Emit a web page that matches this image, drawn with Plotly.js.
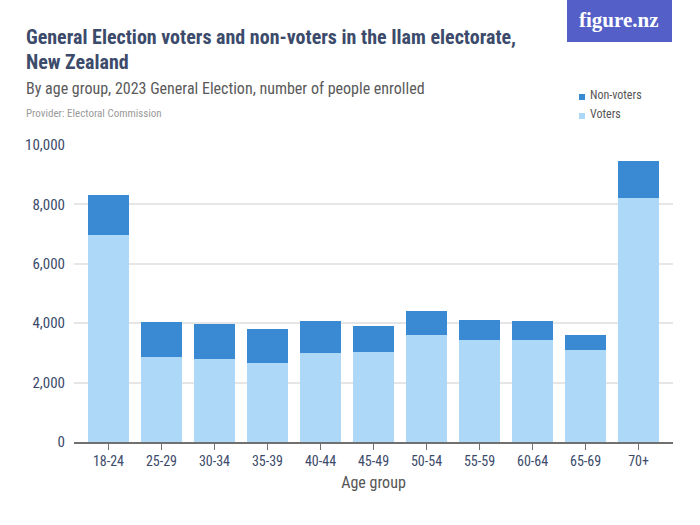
<!DOCTYPE html>
<html>
<head>
<meta charset="utf-8">
<script src="https://cdn.plot.ly/plotly-3.0.1.min.js"></script>
<style>html,body{margin:0;padding:0;background:#fff}#chart{width:700px;height:525px}</style>
</head>
<body>
<div id="chart"></div>
<script>
const categories = ["18-24","25-29","30-34","35-39","40-44","45-49","50-54","55-59","60-64","65-69","70+"];
const voters     = [6970, 2860, 2800, 2670, 3000, 3030, 3590, 3430, 3440, 3100, 8210];
const nonVoters  = [1360, 1180, 1160, 1130, 1080,  860,  820,  680,  650,  500, 1250];
const yTicks = [0, 2000, 4000, 6000, 8000, 10000];

const W = 700, H = 525;
const M = {l: 74, r: 27, t: 145, b: 83};
const PW = W - M.l - M.r, PH = H - M.t - M.b;
const px = x => (x - M.l) / PW;
const py = y => (H - M.b - y) / PH;

const FONT = '"Roboto Condensed", Roboto, sans-serif';
const NAVY = '#3c4b6b';
const C_VOT = '#add8f8';
const C_NON = '#3a8ad3';

const traces = [
  {type: 'bar', name: 'Voters', x: categories, y: voters, marker: {color: C_VOT}, hoverinfo: 'x+y+name'},
  {type: 'bar', name: 'Non-voters', x: categories, y: nonVoters, marker: {color: C_NON}, hoverinfo: 'x+y+name'}
];

const ann = (x, y, text, size, color, opts) => Object.assign({
  xref: 'paper', yref: 'paper', x: px(x), y: py(y), text: text, showarrow: false,
  xanchor: 'left', yanchor: 'middle', font: {family: FONT, size: size, color: color}
}, opts || {});

const layout = {
  width: W, height: H,
  margin: M,
  paper_bgcolor: '#fff', plot_bgcolor: '#fff',
  barmode: 'stack', bargap: 0.21,
  showlegend: false,
  font: {family: FONT, color: NAVY},
  xaxis: {
    type: 'category', range: [-0.65, 10.65],
    showline: true, linecolor: '#707070', linewidth: 1.5,
    ticks: 'outside', ticklen: 6, tickcolor: '#707070', tickwidth: 1,
    tickfont: {family: FONT, size: 14, color: NAVY},
    showgrid: false, fixedrange: true,
    title: {text: 'Age group', font: {family: FONT, size: 16, color: '#555'}, standoff: 8}
  },
  yaxis: {
    range: [0, 10000], tickvals: yTicks, tickformat: ',d',
    showgrid: true, gridcolor: '#e6e6e6', gridwidth: 2,
    zeroline: false, showline: false, ticks: '',
    tickfont: {family: FONT, size: 15, color: NAVY},
    ticklabelstandoff: 8, fixedrange: true
  },
  shapes: [
    {type: 'rect', xref: 'paper', yref: 'paper', x0: px(567), x1: px(672), y0: py(42), y1: py(0), fillcolor: '#545fc8', line: {width: 0}},
    {type: 'rect', xref: 'paper', yref: 'paper', x0: px(579), x1: px(585), y0: py(100), y1: py(94), fillcolor: C_NON, line: {width: 0}},
    {type: 'rect', xref: 'paper', yref: 'paper', x0: px(579), x1: px(585), y0: py(119), y1: py(113), fillcolor: C_VOT, line: {width: 0}}
  ],
  annotations: [
    ann(24, 37, '<b>General Election voters and non-voters in the Ilam electorate,</b>', 20, NAVY),
    ann(24, 62, '<b>New Zealand</b>', 20, NAVY),
    ann(24, 88, 'By age group, 2023 General Election, number of people enrolled', 16, '#5a5a5a'),
    ann(24, 113, 'Provider: Electoral Commission', 11, '#9a9a9a'),
    ann(619, 20, '<b>figure.nz</b>', 21, '#ffffff', {xanchor: 'center', font: {family: '"Liberation Serif", serif', size: 21, color: '#fff'}}),
    ann(588, 95, 'Non-voters', 12, '#555'),
    ann(588, 114, 'Voters', 12, '#555')
  ]
};

Plotly.newPlot('chart', traces, layout, {displayModeBar: false, staticPlot: true});
</script>
</body>
</html>
